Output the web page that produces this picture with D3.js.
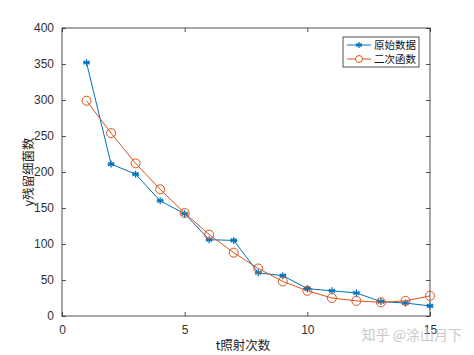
<!DOCTYPE html>
<html>
<head>
<meta charset="utf-8">
<script src="https://cdn.jsdelivr.net/npm/d3@7"></script>
<style>
  body { margin: 0; background: #fff; }
  text { font-family: "Liberation Sans", Arial, sans-serif; }
  .cjk { font-family: "Noto Sans CJK SC", sans-serif; }
</style>
</head>
<body>
<script>
// data
var tValues = [1, 2, 3, 4, 5, 6, 7, 8, 9, 10, 11, 12, 13, 14, 15];
var rawData = [352, 211, 197, 160, 142, 106, 105, 60, 56, 38, 35, 32, 20, 18, 14];
var quadFit = [299, 254, 212, 176, 143, 113, 88, 66, 48, 35, 25, 21, 19, 21, 28];
var xTicks = [0, 5, 10, 15];
var yTicks = [0, 50, 100, 150, 200, 250, 300, 350, 400];
var seriesNames = ['原始数据', '二次函数'];

var W = 474, H = 355;
var margin = {top: 28, right: 44, bottom: 39, left: 62};
var width = W - margin.left - margin.right;
var height = H - margin.top - margin.bottom;
var axisColor = '#262626';
var blue = '#0072BD', orange = '#D95319';

var svg = d3.select('body').append('svg')
    .attr('width', W)
    .attr('height', H);

var g = svg.append('g')
    .attr('transform', 'translate(' + margin.left + ',' + margin.top + ')');

var x = d3.scaleLinear().domain([0, 15]).range([0, width]);
var y = d3.scaleLinear().domain([0, 400]).range([height, 0]);

// box
g.append('rect')
    .attr('width', width).attr('height', height)
    .attr('fill', 'none').attr('stroke', axisColor).attr('stroke-width', 0.8);

// ticks inward, MATLAB style
var xAxis = g.append('g').attr('transform', 'translate(0,' + height + ')')
    .call(d3.axisBottom(x).tickValues(xTicks).tickSize(-4).tickPadding(9));
var xTop = g.append('g')
    .call(d3.axisTop(x).tickValues(xTicks).tickSize(-4).tickFormat(''));
var yAxis = g.append('g')
    .call(d3.axisLeft(y).tickValues(yTicks).tickSize(-4).tickPadding(8));
var yRight = g.append('g').attr('transform', 'translate(' + width + ',0)')
    .call(d3.axisRight(y).tickValues(yTicks).tickSize(-4).tickFormat(''));

[xAxis, xTop, yAxis, yRight].forEach(function (a) {
  a.select('.domain').remove();
  a.selectAll('line').attr('stroke', axisColor).attr('stroke-width', 0.8);
  a.selectAll('text').attr('fill', '#333').style('font-size', '12px');
});

var line = d3.line()
    .x(function (d, i) { return x(tValues[i]); })
    .y(function (d) { return y(d); });

// raw data series
g.append('path').datum(rawData)
    .attr('d', line).attr('fill', 'none')
    .attr('stroke', blue).attr('stroke-width', 1);

function star(sel, color, r) {
  sel.each(function () {
    var s = d3.select(this);
    [0, 60, 120].forEach(function (a) {
      s.append('line')
        .attr('x1', 0).attr('y1', -r).attr('x2', 0).attr('y2', r)
        .attr('transform', 'rotate(' + a + ')')
        .attr('stroke', color).attr('stroke-width', 1.3);
    });
    s.append('line').attr('x1', -r).attr('x2', r).attr('y1', 0).attr('y2', 0)
      .attr('stroke', color).attr('stroke-width', 1.3);
  });
}

g.append('g').selectAll('g').data(rawData).enter().append('g')
    .attr('transform', function (d, i) { return 'translate(' + x(tValues[i]) + ',' + y(d) + ')'; })
    .call(star, blue, 3.5);

// quadratic fit series
g.append('path').datum(quadFit)
    .attr('d', line).attr('fill', 'none')
    .attr('stroke', orange).attr('stroke-width', 1);

g.append('g').selectAll('circle').data(quadFit).enter().append('circle')
    .attr('cx', function (d, i) { return x(tValues[i]); })
    .attr('cy', function (d) { return y(d); })
    .attr('r', 4.5)
    .attr('fill', 'none').attr('stroke', orange).attr('stroke-width', 1);

// legend
var lg = g.append('g').attr('transform', 'translate(' + (width - 87) + ',9)');
lg.append('rect').attr('width', 76).attr('height', 30)
    .attr('fill', '#fff').attr('stroke', axisColor).attr('stroke-width', 0.8);
[blue, orange].forEach(function (c, i) {
  var row = lg.append('g').attr('transform', 'translate(0,' + (8 + i * 14) + ')');
  row.append('line').attr('x1', 4).attr('x2', 28).attr('y1', 0).attr('y2', 0)
      .attr('stroke', c).attr('stroke-width', 1);
  if (i === 0) {
    row.append('g').attr('transform', 'translate(16,0)').call(star, c, 3);
  } else {
    row.append('circle').attr('cx', 16).attr('cy', 0).attr('r', 3.5)
      .attr('fill', '#fff').attr('stroke', c).attr('stroke-width', 1);
  }
  row.append('text').attr('class', 'cjk').attr('x', 31).attr('y', 4)
      .style('font-size', '10.5px').attr('fill', '#111').text(seriesNames[i]);
});

// axis titles
svg.append('text').attr('class', 'cjk')
    .attr('x', margin.left + width / 2 - 3).attr('y', H - 5)
    .attr('text-anchor', 'middle').style('font-size', '12.5px').attr('fill', axisColor)
    .text('t照射次数');
svg.append('text').attr('class', 'cjk')
    .attr('transform', 'translate(33,' + (margin.top + height / 2) + ') rotate(-90)')
    .attr('text-anchor', 'middle').style('font-size', '12.5px').attr('fill', axisColor)
    .text('y残留细菌数');

// watermark
svg.append('text').attr('class', 'cjk')
    .attr('x', 462).attr('y', 340).attr('text-anchor', 'end')
    .style('font-size', '14px').attr('fill', '#c4c4c4')
    .attr('opacity', 0.9)
    .text('知乎 @涂山月下');
</script>
</body>
</html>
